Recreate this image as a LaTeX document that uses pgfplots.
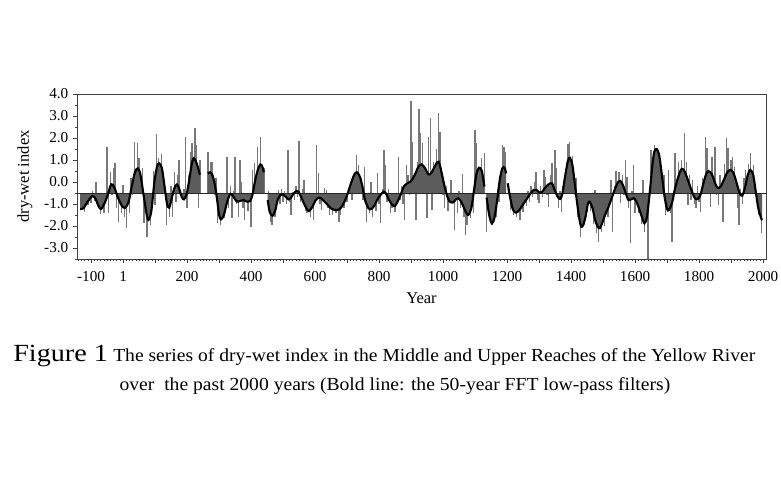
\documentclass[border=0pt]{standalone}
\usepackage{pgfplots}
\pgfplotsset{compat=1.18}
\usepackage{pgfplotstable}
\usepackage{graphicx}
\usepackage{fontspec}
\setmainfont{Liberation Serif}
\definecolor{barcol}{gray}{0.47}
\definecolor{fillcol}{gray}{0.36}
\definecolor{framecol}{gray}{0.25}

% annual dry-wet index (read at ~5-year steps)
\pgfplotstableread{
year v
-130 -1.25
-125 -0.90
-120 -1.35
-115 -0.60
-110 -1.05
-105 -0.50
-100 -0.95
-95 -0.40
-90 -0.85
-85 0.00
-80 -1.10
-75 -0.70
-70 -1.45
-65 -0.90
-60 -1.42
-55 -0.50
-50 1.60
-45 -1.42
-40 0.47
-35 -0.60
-30 0.65
-25 0.85
-20 -1.20
-15 -1.80
-10 -0.50
-5 -1.40
0 -0.15
5 -1.60
10 -2.08
15 -0.80
20 -1.42
25 0.20
30 -0.60
35 1.83
40 0.30
45 1.76
50 1.08
55 -0.20
60 0.62
65 -1.88
70 -1.00
75 -2.48
80 -1.30
85 -1.95
90 -0.90
95 0.50
100 -1.05
105 2.20
110 1.08
115 0.30
120 1.26
125 -0.30
130 0.00
135 -1.95
140 -0.60
145 -1.58
150 -0.20
155 -1.58
160 0.47
165 -0.90
170 0.30
175 1.00
180 -0.60
185 -0.82
190 -0.30
195 2.06
200 -1.20
205 0.30
210 1.38
215 1.76
220 0.60
225 2.47
230 1.68
235 -1.20
240 1.00
265 1.38
270 -0.20
275 0.90
280 0.92
285 -0.60
290 0.20
295 -1.88
300 -0.90
305 -1.95
310 -1.10
315 -1.65
320 -0.70
325 1.15
330 -1.20
335 -0.20
340 -1.65
345 -0.40
350 1.15
355 -1.00
360 -1.58
365 1.00
370 0.00
375 -1.20
380 -1.73
385 -0.60
390 -1.30
395 -0.50
400 -2.03
405 0.55
410 0.85
415 -0.30
420 1.60
425 0.30
430 2.06
435 0.50
440 0.62
455 -0.40
460 -1.80
465 -1.95
470 -1.00
475 -1.58
480 -1.20
485 -0.36
490 -1.00
495 -0.30
500 -0.90
505 -0.40
510 -1.00
515 1.45
520 -0.90
525 -1.50
530 -0.44
535 -0.80
540 -0.20
545 -0.70
550 1.86
555 -0.90
560 -0.30
565 0.09
570 -1.30
575 -1.42
580 -0.90
585 -1.58
590 -1.00
595 -1.73
600 -0.50
605 1.68
610 0.39
615 -1.00
620 -1.27
625 -0.50
630 -0.29
635 -0.36
640 -1.20
645 -1.50
650 -0.90
655 -1.50
660 -1.00
665 -1.40
670 -0.80
675 -1.80
680 -1.50
685 -1.00
690 -1.20
695 -0.60
700 -0.90
705 -0.30
710 -0.40
715 -0.82
720 0.30
725 0.20
730 1.23
735 0.77
740 -0.10
745 0.20
750 -0.80
755 0.70
760 -1.80
765 -1.00
770 -1.40
775 0.02
780 -1.58
785 -0.90
790 -1.30
795 0.39
800 -1.00
805 -1.88
810 -0.30
815 1.45
820 0.77
825 -0.90
830 -0.30
835 -1.42
840 -1.20
845 -0.70
850 -1.35
855 -1.00
860 1.15
865 -0.80
870 -0.20
875 -1.00
880 -1.73
885 0.77
890 0.32
895 -0.60
900 3.68
905 1.83
910 0.17
915 -1.73
920 0.90
925 3.32
930 2.21
935 1.76
940 -0.30
945 0.70
950 -1.65
955 2.06
960 2.90
965 -1.27
970 0.92
975 -0.20
980 1.50
985 3.12
990 2.29
995 0.62
1000 -0.60
1005 -1.20
1010 -0.20
1015 -1.30
1020 -0.50
1025 0.09
1030 -1.00
1035 -2.18
1040 -0.60
1045 -1.42
1050 -0.40
1055 -1.20
1060 0.35
1065 -1.60
1070 -2.41
1075 -1.95
1080 -1.10
1085 -1.65
1090 -0.90
1095 -1.40
1100 2.36
1105 1.76
1110 0.70
1115 0.30
1120 1.08
1125 -0.30
1129 1.30
1136 -2.26
1140 -0.80
1145 -1.50
1150 -1.88
1155 -1.95
1160 -1.00
1165 -1.60
1170 -0.30
1175 -0.90
1180 0.20
1185 1.68
1190 1.60
1195 1.38
1205 -0.40
1210 -1.27
1215 -0.80
1220 -1.50
1225 -1.10
1230 -1.60
1235 -1.00
1240 -1.73
1245 -0.90
1250 -1.35
1255 -0.60
1260 -1.10
1265 -0.40
1270 -0.90
1275 -0.20
1280 -0.70
1285 0.00
1290 0.47
1295 -0.80
1300 -0.97
1305 -0.20
1310 -0.70
1315 0.55
1320 0.24
1325 -0.60
1330 -1.12
1335 0.30
1340 0.85
1345 -0.50
1350 1.45
1355 0.62
1360 -1.20
1365 -0.40
1370 -1.35
1375 -0.20
1380 0.30
1385 0.90
1390 1.71
1395 1.80
1400 0.40
1405 1.20
1410 -0.60
1415 0.20
1420 -1.60
1425 -1.00
1430 -2.48
1435 -1.70
1440 -1.95
1445 -1.20
1450 -1.35
1455 -0.59
1460 -1.30
1465 -0.60
1470 -1.90
1475 -0.36
1480 -2.30
1485 -2.71
1490 -1.80
1495 -2.26
1500 -1.40
1505 -2.00
1510 -1.00
1515 -1.60
1520 -0.70
1525 0.09
1530 -2.26
1535 -0.20
1540 0.50
1545 -0.50
1550 0.44
1555 -0.97
1560 0.30
1565 -0.60
1570 1.00
1575 0.24
1580 -1.20
1585 -2.79
1590 -0.40
1595 0.77
1600 -1.42
1605 -0.50
1610 -1.40
1615 -0.80
1620 -1.90
1625 0.09
1630 -2.26
1635 -1.30
1640 -3.48
1645 -0.30
1650 1.45
1655 0.50
1660 1.68
1665 1.20
1670 1.53
1675 0.80
1680 1.00
1685 -0.40
1690 0.30
1695 -1.50
1700 -0.80
1705 0.55
1710 -1.40
1715 -2.71
1720 -0.50
1725 1.30
1730 -0.20
1735 0.92
1740 0.20
1745 1.00
1750 0.30
1755 2.21
1760 0.92
1765 -1.05
1770 0.30
1775 -0.80
1780 0.10
1785 -1.00
1790 -1.20
1795 -0.20
1800 -0.90
1805 -1.35
1810 0.20
1815 -0.40
1820 2.06
1825 1.53
1830 0.30
1835 -1.12
1840 1.15
1845 -0.20
1850 1.60
1855 -0.60
1860 -1.05
1865 0.30
1870 -0.50
1875 -1.80
1880 0.80
1885 1.98
1890 1.53
1895 0.20
1900 1.00
1905 1.15
1910 0.70
1915 -0.40
1920 -1.20
1925 -1.95
1930 -0.30
1935 -1.00
1940 0.20
1945 0.55
1950 -0.20
1955 0.80
1960 1.30
1965 0.40
1970 0.77
1975 -0.30
1980 -0.82
1985 -1.50
1990 -1.00
1995 -2.33
}\bars

% 50-year FFT low-pass filtered series (bold line), in segments
\pgfplotstableread{
year v
-134 -1.23
-124 -1.20
-114 -0.97
-103 -0.74
-96 -0.64
-87 -0.74
-77 -1.08
-69 -1.23
-58 -0.97
-48 -0.59
-37 -0.10
-27 -0.26
-17 -0.67
-4 -1.08
6 -1.17
17 -0.92
27 -0.21
37 0.44
46 0.62
54 0.35
64 -0.59
73 -1.42
79 -1.73
88 -1.35
98 0.02
106 0.70
112 0.85
121 0.65
129 -0.14
137 -0.97
144 -1.17
152 -0.74
160 -0.29
168 -0.11
175 -0.29
183 -0.67
190 -0.79
198 -0.59
206 0.02
215 0.85
221 1.08
230 0.85
240 0.33
}\segA

\pgfplotstableread{
year v
265 0.39
272 0.44
279 0.32
287 -0.14
294 -0.82
300 -1.50
306 -1.70
315 -1.50
324 -0.97
333 -0.59
340 -0.56
348 -0.74
356 -0.89
366 -0.86
376 -0.82
386 -0.89
397 -0.86
404 -0.59
412 0.02
421 0.55
429 0.80
435 0.70
440 0.44
}\segB

\pgfplotstableread{
year v
452 -0.82
458 -1.35
467 -1.53
475 -1.32
483 -0.82
492 -0.59
500 -0.56
508 -0.67
517 -0.79
525 -0.71
533 -0.52
542 -0.41
548 -0.44
556 -0.67
565 -0.97
573 -1.20
581 -1.32
592 -1.12
602 -0.82
612 -0.71
619 -0.74
629 -0.89
640 -1.05
650 -1.20
660 -1.27
671 -1.27
681 -1.17
692 -0.89
702 -0.52
712 -0.06
723 0.35
731 0.44
740 0.24
748 -0.21
756 -0.82
767 -1.20
775 -1.23
783 -1.12
794 -0.82
804 -0.59
815 -0.44
823 -0.56
831 -0.82
842 -1.05
850 -1.08
860 -0.82
869 -0.52
877 -0.21
888 -0.06
898 0.02
906 0.17
915 0.44
923 0.70
933 0.80
944 0.62
954 0.35
962 0.39
971 0.62
981 0.89
986 0.92
991 0.70
998 0.24
1006 -0.29
1015 -0.74
1023 -0.92
1032 -0.92
1040 -0.79
1048 -0.74
1056 -0.89
1065 -1.17
1073 -1.42
1079 -1.50
1088 -1.20
1096 -0.44
1104 0.35
1112 0.65
1121 0.50
1129 -0.21
}\segC

\pgfplotstableread{
year v
1136 -0.71
1144 -1.50
1152 -1.88
1160 -1.65
1169 -0.82
1177 0.09
1185 0.62
1192 0.65
1197 0.39
}\segD

\pgfplotstableread{
year v
1202 -0.06
1208 -0.59
1217 -1.20
1225 -1.39
1233 -1.35
1242 -1.20
1252 -0.97
1263 -0.74
1273 -0.52
1283 -0.36
1292 -0.36
1300 -0.47
1308 -0.47
1319 -0.26
1329 -0.11
1340 -0.06
1348 -0.35
1358 -0.67
1366 -0.77
1373 -0.52
1381 0.24
1390 0.95
1396 1.10
1404 0.77
1412 -0.14
1421 -1.20
1429 -1.92
1435 -2.03
1444 -1.65
1452 -1.02
1458 -0.89
1467 -1.20
1475 -1.73
1483 -2.03
1490 -2.10
1498 -1.83
1506 -1.50
1515 -1.20
1523 -0.89
1531 -0.56
1540 -0.21
1548 0.02
1554 0.05
1562 -0.14
1571 -0.52
1579 -0.82
1587 -0.79
1596 -0.74
1604 -0.89
1612 -1.20
1621 -1.58
1629 -1.88
1637 -1.58
1646 -0.44
1654 0.77
1660 1.38
1667 1.50
1675 1.23
1683 0.39
1692 -0.67
1700 -1.23
1706 -1.27
1715 -0.97
1723 -0.41
1731 0.05
1740 0.45
1746 0.60
1754 0.50
1765 0.09
1777 -0.41
1787 -0.74
1796 -0.77
1804 -0.59
1812 -0.14
1821 0.32
1829 0.50
1840 0.35
1850 -0.06
1858 -0.26
1867 -0.21
1877 0.09
1888 0.44
1898 0.55
1908 0.39
1919 -0.14
1927 -0.52
1935 -0.62
1944 -0.21
1952 0.32
1960 0.55
1969 0.32
1977 -0.44
1985 -1.20
1994 -1.65
1997 -1.73
}\segE

\pgfplotsset{
  common/.style={
    at={(57.75pt,-70.5pt)}, anchor=north west,
    scale only axis, width=516.75pt, height=123.75pt,
    xmin=-144, xmax=2009,
  },
}

\begin{document}
\begin{tikzpicture}[x=1pt,y=1pt]
\fill[white] (0,0) rectangle (585.75,-361.5);
\useasboundingbox (0,0) rectangle (585.75,-361.5);

% frame, ticks and labels
\begin{axis}[common,
  ymin=-3.5, ymax=4,
  axis line style={framecol, line width=0.6pt},
  tick pos=left, tick align=outside,
  major tick length=3pt, minor tick length=1.6pt,
  every tick/.style={framecol, line width=0.5pt},
  xtick={-100,0,100,...,2000},
  xticklabels={-100,1,,200,,400,,600,,800,,1000,,1200,,1400,,1600,,1800,,2000},
  minor xtick={-140,-130,...,2000},
  ytick={-3,-2,...,4},
  yticklabels={-3.0,-2.0,-1.0,0.0,1.0,2.0,3.0,4.0},
  minor ytick={-3.5,-2.5,...,3.5},
  ticklabel style={font=\fontsize{11.4}{12}\selectfont},
  xticklabel style={yshift=-3pt},
  xlabel={Year}, ylabel={dry-wet index},
  label style={font=\fontsize{12.4}{14}\selectfont},
  xlabel style={at={(axis description cs:0.5,-0.24)}, anchor=center},
  ylabel style={at={(axis description cs:-0.0755,0.5)}, anchor=center},
]
\end{axis}

% data, drawn on an overlaid axis whose zero level is the -0.5 baseline
\begin{axis}[common, ymin=-3, ymax=4.5, hide axis]
\addplot[ycomb, barcol, line width=1.05pt, mark=none] table[x=year, y expr=\thisrow{v}+0.5] {\bars};
\addplot[fill=fillcol, draw=none] table[x=year, y expr=\thisrow{v}+0.5] {\segA} \closedcycle;
\addplot[fill=fillcol, draw=none] table[x=year, y expr=\thisrow{v}+0.5] {\segB} \closedcycle;
\addplot[fill=fillcol, draw=none] table[x=year, y expr=\thisrow{v}+0.5] {\segC} \closedcycle;
\addplot[fill=fillcol, draw=none] table[x=year, y expr=\thisrow{v}+0.5] {\segD} \closedcycle;
\addplot[fill=fillcol, draw=none] table[x=year, y expr=\thisrow{v}+0.5] {\segE} \closedcycle;
\addplot[black!85, line width=0.6pt] coordinates {(-144,0) (2009,0)};
\addplot[black, line width=1.6pt, smooth] table[x=year, y expr=\thisrow{v}+0.5] {\segA};
\addplot[black, line width=1.6pt, smooth] table[x=year, y expr=\thisrow{v}+0.5] {\segB};
\addplot[black, line width=1.6pt, smooth] table[x=year, y expr=\thisrow{v}+0.5] {\segC};
\addplot[black, line width=1.6pt, smooth] table[x=year, y expr=\thisrow{v}+0.5] {\segD};
\addplot[black, line width=1.6pt, smooth] table[x=year, y expr=\thisrow{v}+0.5] {\segE};
\end{axis}

% caption
\node[anchor=base west, inner sep=0pt] at (9.75,-271.25)
  {\resizebox{71pt}{\height}{\fontsize{18.5}{20}\selectfont Figure 1}};
\node[anchor=base west, inner sep=0pt] at (84.75,-271.25)
  {\resizebox{481.5pt}{\height}{\fontsize{13.8}{15}\selectfont The series of dry-wet index in the Middle and Upper Reaches of the Yellow River}};
\node[anchor=base west, inner sep=0pt] at (89.5,-292.5)
  {\resizebox{413pt}{\height}{\fontsize{13.8}{15}\selectfont over\ \ the past 2000 years (Bold line: the 50-year FFT low-pass filters)}};
\end{tikzpicture}
\end{document}
